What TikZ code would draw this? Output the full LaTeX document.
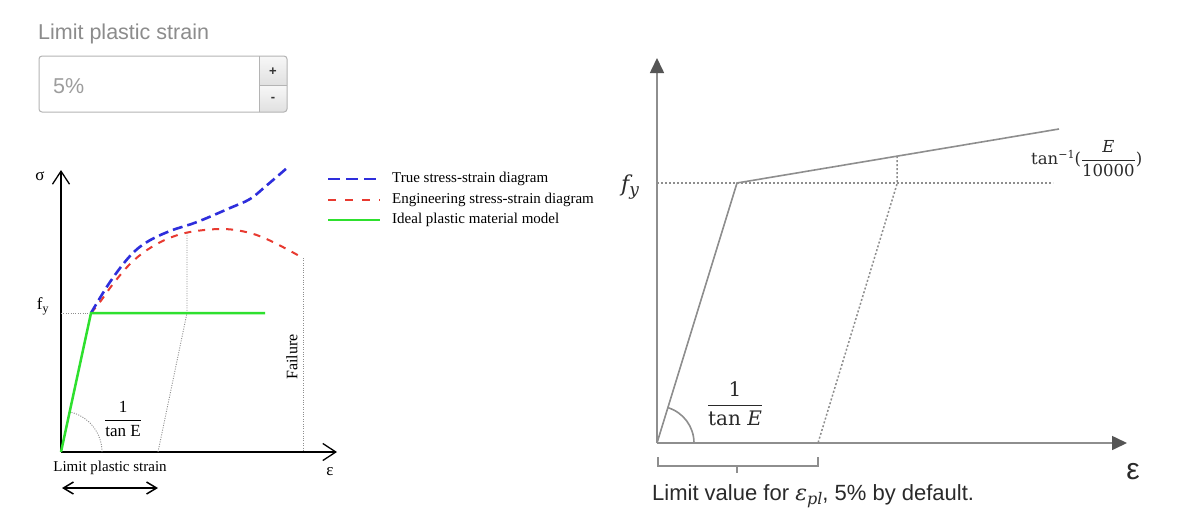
\documentclass[tikz,border=0pt]{standalone}
\usepackage{amsmath}
\usepackage{fontspec}
\setmainfont{Liberation Serif}
\newfontfamily\uisans{Liberation Sans}
\newfontfamily\cmb{DejaVu Serif}
\usetikzlibrary{arrows.meta,calc}
\definecolor{uigray}{HTML}{8C8C8C}
\definecolor{uiborder}{HTML}{B4B4B4}
\definecolor{curveblue}{HTML}{2E2EDC}
\definecolor{curvered}{HTML}{E83A30}
\definecolor{curvegreen}{HTML}{2EE02E}
\definecolor{rgray}{HTML}{8E8E8E}
\definecolor{rdark}{HTML}{555555}
\definecolor{dotgray}{HTML}{8E8E8E}
\definecolor{rtext}{HTML}{2A2A2A}
\tikzset{
  axisL/.style={black, line width=1.3pt},
  barbtip/.style={-{Straight Barb[length=13pt,width=17pt]}},
  guideL/.style={dotgray, line width=0.9pt, dash pattern=on 1pt off 1.4pt},
  bluecurve/.style={curveblue, line width=2.6pt, dash pattern=on 10pt off 5pt},
  redcurve/.style={curvered, line width=2pt, dash pattern=on 7pt off 7pt},
  greencurve/.style={curvegreen, line width=2.5pt},
  serifL/.style={font=\fontsize{15}{18}\selectfont, inner sep=0pt},
  greekL/.style={font=\fontsize{17}{20}\selectfont, inner sep=0pt},
  legtext/.style={font=\fontsize{15}{18}\selectfont, anchor=west, inner sep=0pt},
  axisR/.style={rgray, line width=1.6pt},
  tipR/.style={-{Triangle[length=15pt,width=14pt,color=rdark,fill=rdark]}},
  guideR/.style={dotgray, line width=1.5pt, dash pattern=on 2pt off 2pt},
  uitext/.style={font=\uisans\fontsize{21.5}{25}\selectfont, inner sep=0pt}
}
\begin{document}
\begin{tikzpicture}[x=1pt,y=-1pt]
\useasboundingbox (0,0) rectangle (1203,520);
\fill[white] (0,0) rectangle (1203,520);

% ---------- UI widget ----------
\node[uitext, text=uigray, anchor=west] (uilabel) at (38,34) {Limit plastic strain};
\begin{scope}
  \clip[rounded corners=3pt] (39,56) rectangle (287,112);
  \shade[top color=white!97!black, bottom color=white!88!black] (259,56) rectangle (287,85);
  \shade[top color=white!97!black, bottom color=white!88!black] (259,85) rectangle (287,112);
\end{scope}
\draw[uiborder, line width=1pt, rounded corners=3pt] (39,56) rectangle (287,112);
\draw[uiborder, line width=1pt] (259,56) -- (259,112);
\draw[uiborder, line width=0.8pt] (259,85) -- (287,85);
\node[uitext, text=uigray!85!white, anchor=west] (uival) at (53,86) {5\%};
\node[font=\uisans\bfseries\fontsize{13}{15}\selectfont, text=black!80, inner sep=0pt] (uiplus) at (273,72) {+};
\node[font=\uisans\bfseries\fontsize{13}{15}\selectfont, text=black!80, inner sep=0pt] (uiminus) at (273,99) {-};

% ---------- left chart ----------
\coordinate (O1) at (61,452);
\coordinate (Ytop1) at (61,170);
\coordinate (Xend1) at (337,452);
\coordinate (Y1) at (91,313);
\coordinate (G1) at (265,313);
\coordinate (M1) at (187,233);
\coordinate (M1b) at (187,313);
\coordinate (M1c) at (158,452);
\coordinate (F1) at (303,258);
\coordinate (F1b) at (303,452);

\draw[axisL, barbtip] (O1) -- (Ytop1);
\draw[axisL, barbtip] (O1) -- (Xend1);

\draw[guideL] (O1 |- Y1) -- (Y1);
\draw[guideL] (M1) -- (M1b) -- (M1c);
\draw[guideL] (F1) -- (F1b);
\draw[guideL] ($(O1)+(41,0)$) arc[start angle=0, end angle=77, radius=41pt];

\draw[redcurve] plot[smooth, tension=0.6] coordinates {(91,313) (100,302) (113,284) (130,264) (147,250) (167,239) (190,232) (223,229) (250,233) (273,242) (303,258)};
\draw[bluecurve] plot[smooth, tension=0.6] coordinates {(91,313) (110,282) (130,256) (147,242) (170,231) (197,222) (230,208) (250,199) (266,186) (287,168)};
\draw[greencurve] (O1) -- (Y1) -- (G1);

\node[greekL] (sig) at (40,176) {σ};
\node[font=\fontsize{17}{20}\selectfont, inner sep=0pt] (fy1) at (43,306) {f\textsubscript{y}};
\node[greekL] (eps1) at (330,472) {ε};
\node[font=\fontsize{16}{19}\selectfont, inner sep=0pt, rotate=90] (fail) at (292,357) {Failure};
\node[font=\fontsize{17}{20}\selectfont, inner sep=0pt] (frac1) at (123,419) {$\dfrac{\mathrm{1}}{\mathrm{tan\ E}}$};
\node[serifL] (lps) at (110,468) {Limit plastic strain};
\coordinate (DA1) at (62,488);
\coordinate (DA2) at (158,488);
\draw[line width=1.5pt, {Straight Barb[length=10pt,width=12pt]}-{Straight Barb[length=10pt,width=12pt]}] (DA1) -- (DA2);

% legend
\coordinate (L1a) at (328,179); \coordinate (L1b) at (380,179);
\coordinate (L2a) at (328,200); \coordinate (L2b) at (380,200);
\coordinate (L3a) at (328,220); \coordinate (L3b) at (380,220);
\draw[curveblue, line width=2pt, dash pattern=on 12pt off 6pt] (L1a) -- (L1b);
\draw[curvered, line width=1.5pt, dash pattern=on 8pt off 9pt] (L2a) -- (L2b);
\draw[curvegreen, line width=2pt] (L3a) -- (L3b);
\node[legtext] (leg1) at (392,179) {True stress-strain diagram};
\node[legtext] (leg2) at (392,200) {Engineering stress-strain diagram};
\node[legtext] (leg3) at (392,220) {Ideal plastic material model};

% ---------- right chart ----------
\coordinate (O2) at (657,443);
\coordinate (Ytop2) at (657,58);
\coordinate (Xend2) at (1127,443);
\coordinate (Y2) at (737,183);
\coordinate (H2) at (1059,129);
\coordinate (U2) at (897,156.2);
\coordinate (U2b) at (897,184);
\coordinate (P2) at (818,443);
\coordinate (D2) at (1053,183);

\draw[guideR] (O2 |- Y2) -- (D2);
\draw[guideR] (U2) -- (U2b) -- (P2);
\draw[axisR, tipR] (O2) -- (Ytop2);
\draw[axisR, tipR] (O2) -- (Xend2);
\draw[axisR] (O2) -- (Y2) -- (H2);
\draw[axisR] ($(O2)+(37,0)$) arc[start angle=0, end angle=73, radius=37pt];

% bracket
\coordinate (B1) at (658,457);
\coordinate (B2) at (658,466);
\coordinate (B3) at (818,466);
\coordinate (B4) at (818,457);
\coordinate (Bm) at (737,466);
\coordinate (Bt) at (737,473);
\draw[rgray, line width=1.2pt] (B1) -- (B2) -- (B3) -- (B4);
\draw[rgray, line width=1.2pt] (Bm) -- (Bt);

\node[font=\cmb\itshape\fontsize{22}{26}\selectfont, text=rtext, inner sep=0pt] (fy2) at (630,187) {f\raisebox{-0.3ex}{\fontsize{17}{17}\selectfont y}};
\node[font=\cmb\fontsize{16.5}{20}\selectfont, text=rtext, inner sep=0pt, anchor=west] (tanlbl) at (1031,159) {tan\raisebox{0.75ex}{\fontsize{11}{11}\selectfont −1}($\genfrac{}{}{1.2pt}{0}{\mbox{\cmb\itshape\fontsize{16.5}{20}\selectfont E}}{\mbox{\cmb\fontsize{16.5}{20}\selectfont 10000}}$)};
\node[font=\cmb\fontsize{20}{24}\selectfont, text=rtext, inner sep=0pt] (frac2) at (735,404) {$\genfrac{}{}{1.6pt}{0}{\mbox{\cmb\fontsize{20}{24}\selectfont 1}}{\mbox{\cmb\fontsize{20}{24}\selectfont tan \itshape E}}$};
\node[font=\uisans\fontsize{30}{34}\selectfont, text=rtext, inner sep=0pt] (eps2) at (1133,472) {ε};
\node[font=\uisans\fontsize{22}{26}\selectfont, text=rtext, inner sep=0pt, anchor=base west] (limtxt) at (652,500) {Limit value for {\cmb\itshape ε\raisebox{-0.35ex}{\fontsize{16}{16}\selectfont pl}}, 5\% by default.};
\end{tikzpicture}
\end{document}
